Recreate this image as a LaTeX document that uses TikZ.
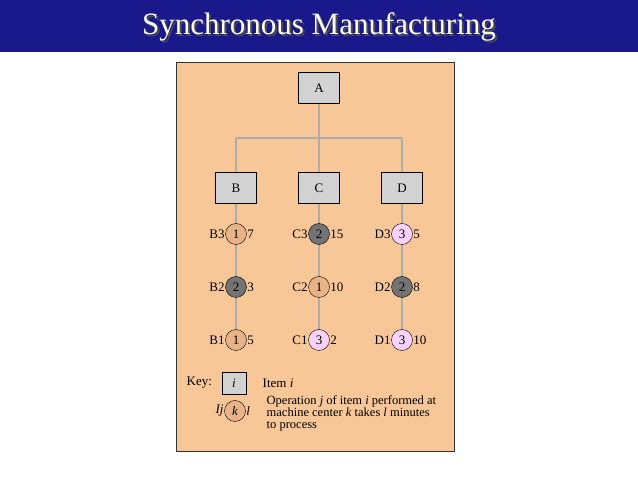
\documentclass[tikz,border=0pt]{standalone}
\usepackage{fontspec}
\setmainfont{Liberation Serif}
\begin{document}
\begin{tikzpicture}[x=1pt,y=-1pt,
 item/.style={draw=black,fill=gray!35,minimum width=41pt,minimum height=31pt,font=\fontsize{13}{15}\selectfont},
 op/.style={draw=black,circle,minimum size=21pt,inner sep=0pt,font=\fontsize{13}{15}\selectfont},
 c1/.style={op,fill={rgb,255:red,232;green,180;blue,135}},
 c2/.style={op,fill=gray!90!black},
 c3/.style={op,fill={rgb,255:red,248;green,210;blue,250}},
 lab/.style={font=\fontsize{13}{15}\selectfont,inner sep=0.5pt},
 tl/.style={draw=gray!65,line width=2.2pt}]
\useasboundingbox (0,0) rectangle (638,478);
\fill[white] (0,0) rectangle (638,478);
\fill[blue!50!black!90] (0,0) rectangle (638,52);
\node[text=black!70,font=\fontsize{31}{34}\selectfont] at (321,29) {Synchronous Manufacturing};
\node[text=white,font=\fontsize{31}{34}\selectfont] (title) at (319,27) {Synchronous Manufacturing};
\fill[fill={rgb,255:red,248;green,199;blue,152},draw=black!80,line width=1pt] (176,63) rectangle (454,452);
\node[item] (A) at (319,88) {A};
\coordinate (j) at (319,138);
\coordinate (jb) at (236,138);
\coordinate (jd) at (402,138);
\node[item] (B) at (236,188) {B};
\node[item] (C) at (319,188) {C};
\node[item] (D) at (402,188) {D};
\draw[tl] (A) -- (j) (jb) -- (jd) (jb) -- (B) (j) -- (C) (jd) -- (D);
\foreach \n/\x/\a/\b/\c/\la/\lb/\lc in {B/236/1/2/1/7/3/5, C/319/2/1/3/15/10/2, D/402/3/2/3/5/8/10}{
 \draw[tl] (\n) -- (\x,340);
 \node[c\a] (\n3) at (\x,234) {\a};
 \node[c\b] (\n2) at (\x,287) {\b};
 \node[c\c] (\n1) at (\x,340) {\c};
 \foreach \k/\l in {3/\la,2/\lb,1/\lc}{
  \node[lab,anchor=east] at (\n\k.west) {\n\k};
  \node[lab,anchor=west] at (\n\k.east) {\l};
 }
}
\node[lab,anchor=west] (key) at (186,383) {Key:};
\node[item,minimum width=24pt,minimum height=22pt] (ki) at (234,383) {\itshape i};
\node[lab,anchor=west] (it) at (262,383) {Item \itshape i};
\node[c1] (kc) at (235,411) {\itshape k};
\node[lab,anchor=east] at (kc.west) {\itshape Ij};
\node[lab,anchor=west] at (kc.east) {\itshape l};
\node[lab,anchor=north west,align=left,font=\fontsize{12.5}{12}\selectfont] at (266,395) {Operation \textit{j} of item \textit{i} performed at\\machine center \textit{k} takes \textit{l} minutes\\to process};
\end{tikzpicture}
\end{document}
